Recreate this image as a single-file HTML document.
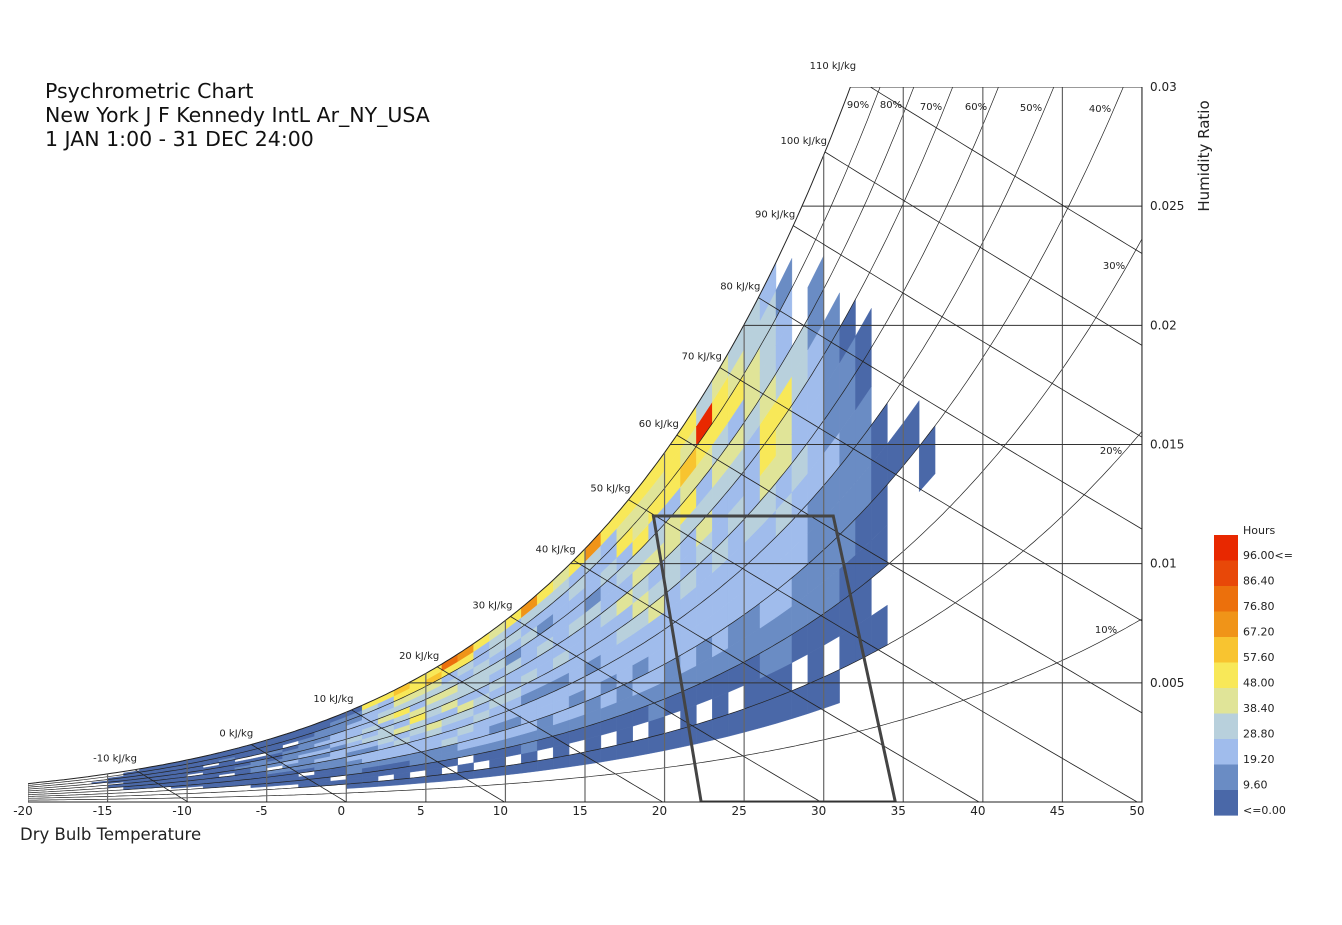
<!DOCTYPE html>
<html><head><meta charset="utf-8"><style>
body{margin:0;background:#fff;}
svg{display:block;font-family:"DejaVu Sans","Liberation Sans",sans-serif;}
</style></head><body>
<svg id="chart" width="1342" height="925" viewBox="0 0 1342 925" xmlns="http://www.w3.org/2000/svg">
<defs><clipPath id="plotclip"><rect x="28" y="87" width="1114" height="715"/></clipPath></defs>
<g font-size="20.5" fill="#111">
<text x="45" y="98">Psychrometric Chart</text>
<text x="45" y="122">New York J F Kennedy IntL Ar_NY_USA</text>
<text x="45" y="146">1 JAN 1:00 - 31 DEC 24:00</text>
</g>
<g id="cells" clip-path="url(#plotclip)"></g>
<g id="grid" clip-path="url(#plotclip)" fill="none"></g>
<g id="labels"></g>
<g id="legend"></g>
</svg>
<script>
const temps = [-16,-15,-14,-13,-12,-11,-10,-9,-8,-7,-6,-5,-4,-3,-2,-1,0,1,2,3,4,5,6,7,8,9,10,11,12,13,14,15,16,17,18,19,20,21,22,23,24,25,26,27,28,29,30,31,32,33,34,35,36];
// each string: RH bins 0-5%,5-10%,...,95-100%; '.' = no hours; 0-9, X=10 colour level
const cellLevels = [
"..............0.....",
"..........00.0000...",
"........00000000000.",
"........000000000000",
"........000000000000",
".......0000000000000",
".......00000.0000000",
"......000000000.0000",
"......0000.000001000",
"......000000100.0000",
".....0000011110.0000",
".....00001.110010000",
".....00001121110.000",
"....000.011121111000",
"....0000112121211100",
"....0.00112212221110",
"...00011121223222110",
"...00001221232322235",
"...0.001222333243225",
"...00001223242353456",
"...0.011222335423455",
"...00011223423343465",
"...0.011322324343258",
"...00.12232342332357",
"...0.012223232333225",
"...00012122323232334",
"...0.012122322312325",
"...00112221232223237",
"...0.011221222321235",
"...00012221232222234",
"...0.012122222322325",
"...00011221222312237",
"...0.012122223223225",
"...00011222324232545",
"...0.012122343435445",
"...00112222432432545",
"...0.011222233442555",
"...00012222322354645",
"...0.0112222343245X3",
"...00012222322343554",
"...0.011222232342543",
"...00011222322234433",
"...00112222345543332",
"...0011222324453221.",
"...0.01122232233....",
"...00011112222211...",
"...0.0111121111.....",
"....0001111110......",
"....000011100.......",
"....0.0000..........",
"........0...........",
"........0...........",
".......0............"
];
const levelColors = ["#4a68a8","#6a8cc4","#a0bcec","#b8d0dc","#e0e498","#f8e858","#f8c430","#f09418","#ec700c","#e84808","#e82800"];
const legendLabels = ["96.00<=","86.40","76.80","67.20","57.60","48.00","38.40","28.80","19.20","9.60","<=0.00"];
const xTicks = [-20,-15,-10,-5,0,5,10,15,20,25,30,35,40,45,50];
const yTicks = [0.005,0.01,0.015,0.02,0.025,0.03];
const rhLines = [10,20,30,40,50,60,70,80,90];
const enthalpyLines = [-10,0,10,20,30,40,50,60,70,80,90,100,110];
const comfortZone = [[22.3,0],[19.3,0.012],[30.6,0.012],[34.5,0]];

const NS="http://www.w3.org/2000/svg";
const X=t=>28+(t+20)*15.914;
const Y=w=>802-w*23833;
const P=101325;
const ps=t=>610.94*Math.exp(17.625*t/(t+243.04));
const wRH=(t,rh)=>{const p=rh*ps(t);return 0.622*p/(P-p);};
function mk(tag,attrs,parent){const e=document.createElementNS(NS,tag);for(const k in attrs)e.setAttribute(k,attrs[k]);parent.appendChild(e);return e;}
const cells=document.getElementById('cells'),grid=document.getElementById('grid'),labels=document.getElementById('labels'),legend=document.getElementById('legend');

temps.forEach((t,i)=>{
  const s=cellLevels[i];
  for(let b=0;b<s.length;b++){
    const c=s[b]; if(c==='.')continue;
    const lv=c==='X'?10:+c;
    const r0=b*0.05,r1=(b+1)*0.05;
    const pts=[[t,r0],[t+1,r0],[t+1,r1],[t,r1]].map(([tt,r])=>X(tt).toFixed(1)+','+Y(wRH(tt,r)).toFixed(1)).join(' ');
    const p=mk('polygon',{points:pts,fill:levelColors[lv],stroke:levelColors[lv],'stroke-width':0.4},cells);
    
    
  }
});

function curve(fn,t0,t1,attrs,name){
  let d='';for(let t=t0;t<=t1+1e-9;t+=0.25){const w=fn(t);d+=(d?'L':'M')+X(t).toFixed(1)+','+Y(w).toFixed(1);}
  const p=mk('path',Object.assign({d:d},attrs),grid);
  
  
}
rhLines.concat([100]).forEach(rh=>{
  curve(t=>Math.min(wRH(t,rh/100),0.0305),-20,50,{stroke:'#222','stroke-width':rh===100?1:0.7},'rh-curve-'+rh);
});
xTicks.forEach(t=>{
  const top=Math.min(wRH(t,1),0.03);
  const l=mk('line',{x1:X(t),x2:X(t),y1:Y(0),y2:Y(top),stroke:'#666','stroke-width':1.2},grid);
  
  
});
yTicks.forEach(w=>{
  let lo=-20,hi=50;for(let k=0;k<40;k++){const m=(lo+hi)/2;if(wRH(m,1)<w)lo=m;else hi=m;}
  const l=mk('line',{x1:X(lo),x2:X(50),y1:Y(w),y2:Y(w),stroke:'#333','stroke-width':1},grid);
  
  
});
const hOf=(t,w)=>1.006*t+w*(2501+1.86*t);
enthalpyLines.forEach(h=>{
  let lo=-30,hi=50;for(let k=0;k<50;k++){const m=(lo+hi)/2;if(hOf(m,wRH(m,1))<h)lo=m;else hi=m;}
  const ts=lo,te=Math.min(h/1.006,50);
  const wf=t=>(h-1.006*t)/(2501+1.86*t);
  let d='';for(let s=0;s<=40;s++){const t=ts+(te-ts)*s/40;d+=(d?'L':'M')+X(t).toFixed(1)+','+Y(wf(t)).toFixed(1);}
  const p=mk('path',{d:d,stroke:'#222','stroke-width':0.8},grid);
  
  
  const tx=mk('text',{x:X(ts)+2,y:Y(wRH(ts,1))-8,'font-size':10,fill:'#222','text-anchor':'end'},labels);
  tx.textContent=h+' kJ/kg';
  
  
});
const cz=mk('polygon',{points:comfortZone.map(([t,w])=>X(t)+','+Y(w)).join(' '),fill:'none',stroke:'#444','stroke-width':3},grid);


const ax=mk('path',{d:`M28,${Y(0)}H1142V87`,stroke:'#222','stroke-width':1,fill:'none'},labels);


xTicks.forEach(t=>{
  const tx=mk('text',{x:X(t)-5,y:815,'font-size':12,fill:'#222','text-anchor':'middle'},labels);
  tx.textContent=t;
  
  
});
yTicks.forEach(w=>{
  const tx=mk('text',{x:1150,y:Y(w)+4,'font-size':12,fill:'#222'},labels);
  tx.textContent=String(w);
  
  
});
const rhPos={90:[858,108],80:[891,108],70:[931,110],60:[976,110],50:[1031,111],40:[1100,112],30:[1114,269],20:[1111,454],10:[1106,633]};
rhLines.forEach(rh=>{
  const tx=mk('text',{x:rhPos[rh][0],y:rhPos[rh][1],'font-size':10,fill:'#222','text-anchor':'middle'},labels);
  tx.textContent=rh+'%';
  
  
});
const xt=mk('text',{x:20,y:840,'font-size':16.5,fill:'#222'},labels);
xt.textContent='Dry Bulb Temperature';


const yt=mk('text',{x:1209,y:156,'font-size':15,fill:'#222','text-anchor':'middle',transform:'rotate(-90 1209 156)'},labels);
yt.textContent='Humidity Ratio';


const lh=mk('text',{x:1243,y:534,'font-size':11,fill:'#222'},legend);
lh.textContent='Hours';


legendLabels.forEach((lab,i)=>{
  const r=mk('rect',{x:1214,y:535+i*25.5,width:24,height:25.6,fill:levelColors[10-i]},legend);
  
  
  const tx=mk('text',{x:1243,y:559+i*25.5,'font-size':11,fill:'#222'},legend);
  tx.textContent=lab;
  
  
});
</script>
</body></html>
